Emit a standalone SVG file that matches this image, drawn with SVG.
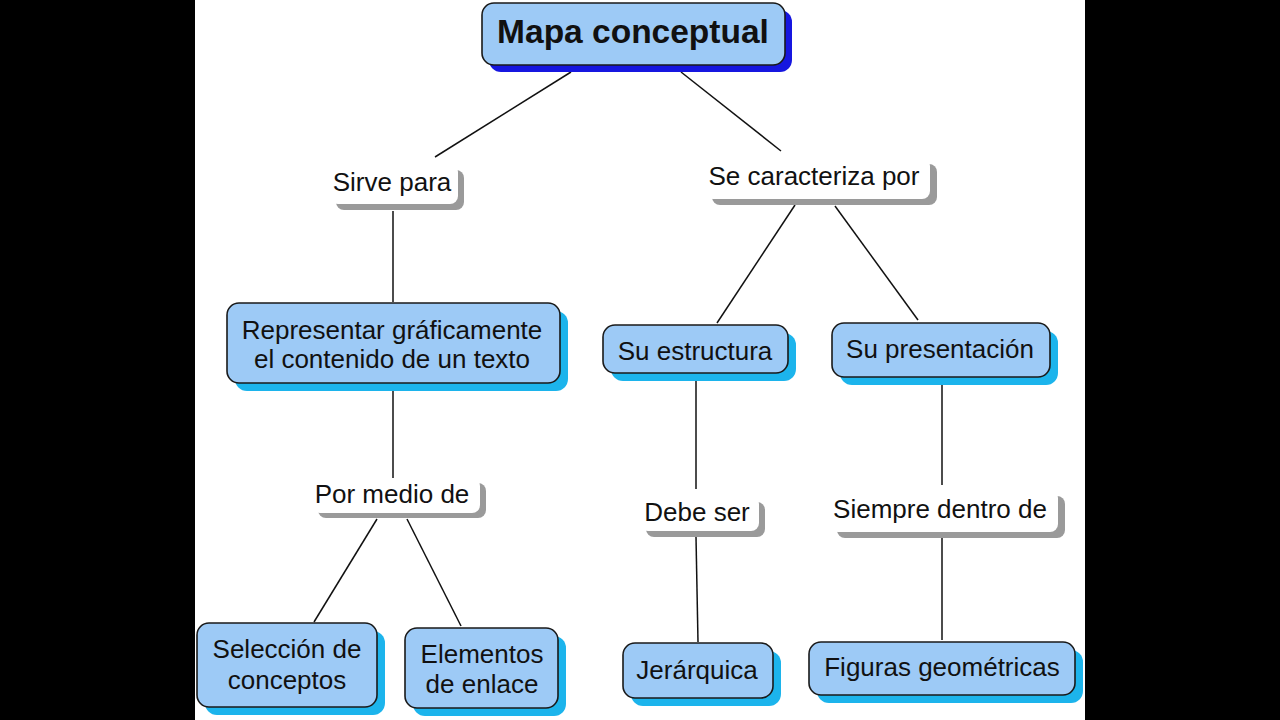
<svg xmlns="http://www.w3.org/2000/svg" width="1280" height="720" viewBox="0 0 1280 720">
<style>
.node{fill:#9dcaf6;stroke:#1a1a1a;stroke-width:1.6}
.sh{fill:#1cb4ec}
.tsh{fill:#1616e0}
.lsh{fill:#9a9a9a}
.lbg{fill:#ffffff}
.t{font-family:"Liberation Sans",Arial,sans-serif;font-size:26px;fill:#111;text-anchor:middle}
.title{font-family:"Liberation Sans",Arial,sans-serif;font-size:33.5px;font-weight:bold;fill:#111;text-anchor:middle}
.c{stroke:#111;stroke-width:1.5;fill:none}
</style>
<rect x="0" y="0" width="1280" height="720" fill="#000"/>
<rect x="195" y="0" width="890" height="720" fill="#fff"/>
<g id="connectors">
<line class="c" x1="571" y1="72" x2="435" y2="157"/>
<line class="c" x1="681" y1="72" x2="781" y2="151"/>
<line class="c" x1="393" y1="211" x2="393" y2="302"/>
<line class="c" x1="393" y1="391" x2="393" y2="478"/>
<line class="c" x1="377" y1="519" x2="314" y2="622"/>
<line class="c" x1="407" y1="519" x2="461" y2="626"/>
<line class="c" x1="795" y1="205" x2="717" y2="323"/>
<line class="c" x1="835" y1="206" x2="918" y2="320"/>
<line class="c" x1="696" y1="381" x2="696" y2="489"/>
<line class="c" x1="696" y1="537" x2="698" y2="642"/>
<line class="c" x1="942" y1="385" x2="942" y2="485"/>
<line class="c" x1="942" y1="538" x2="942" y2="640"/>
</g>
<g id="title">
<rect class="tsh" x="489" y="10" width="303" height="62" rx="12"/>
<rect class="node" x="482" y="3" width="303" height="62" rx="12"/>
<text class="title" x="633" y="43">Mapa conceptual</text>
</g>
<g id="sirve">
<rect class="lsh" x="336" y="170" width="128" height="40" rx="8"/>
<rect class="lbg" x="330" y="164" width="128" height="40" rx="8"/>
<text class="t" x="392" y="191">Sirve para</text>
</g>
<g id="caracteriza">
<rect class="lsh" x="712" y="164" width="225" height="41" rx="8"/>
<rect class="lbg" x="705" y="158" width="225" height="41" rx="8"/>
<text class="t" x="814" y="185">Se caracteriza por</text>
</g>
<g id="representar">
<rect class="sh" x="235" y="311" width="333" height="80" rx="12"/>
<rect class="node" x="227" y="303" width="333" height="80" rx="12"/>
<text class="t" x="392" y="339">Representar gráficamente</text>
<text class="t" x="392" y="368">el contenido de un texto</text>
</g>
<g id="pormedio">
<rect class="lsh" x="318" y="483" width="168" height="35" rx="8"/>
<rect class="lbg" x="312" y="478" width="168" height="35" rx="8"/>
<text class="t" x="392" y="503">Por medio de</text>
</g>
<g id="seleccion">
<rect class="sh" x="205" y="631" width="180" height="84" rx="12"/>
<rect class="node" x="197" y="623" width="180" height="84" rx="12"/>
<text class="t" x="287" y="658">Selección de</text>
<text class="t" x="287" y="689">conceptos</text>
</g>
<g id="elementos">
<rect class="sh" x="413" y="636" width="153" height="80" rx="12"/>
<rect class="node" x="405" y="628" width="153" height="80" rx="12"/>
<text class="t" x="482" y="663">Elementos</text>
<text class="t" x="482" y="693">de enlace</text>
</g>
<g id="estructura">
<rect class="sh" x="611" y="333" width="185" height="48" rx="12"/>
<rect class="node" x="603" y="325" width="185" height="48" rx="12"/>
<text class="t" x="695" y="360">Su estructura</text>
</g>
<g id="presentacion">
<rect class="sh" x="840" y="331" width="218" height="54" rx="12"/>
<rect class="node" x="832" y="323" width="218" height="54" rx="12"/>
<text class="t" x="940" y="358">Su presentación</text>
</g>
<g id="debeser">
<rect class="lsh" x="646" y="502" width="119" height="35" rx="8"/>
<rect class="lbg" x="640" y="496" width="119" height="35" rx="8"/>
<text class="t" x="697" y="521">Debe ser</text>
</g>
<g id="siempre">
<rect class="lsh" x="837" y="496" width="228" height="42" rx="8"/>
<rect class="lbg" x="830" y="490" width="228" height="42" rx="8"/>
<text class="t" x="940" y="518">Siempre dentro de</text>
</g>
<g id="jerarquica">
<rect class="sh" x="631" y="651" width="150" height="55" rx="12"/>
<rect class="node" x="623" y="643" width="150" height="55" rx="12"/>
<text class="t" x="697" y="679">Jerárquica</text>
</g>
<g id="figuras">
<rect class="sh" x="817" y="650" width="266" height="53" rx="12"/>
<rect class="node" x="809" y="642" width="266" height="53" rx="12"/>
<text class="t" x="942" y="676">Figuras geométricas</text>
</g>
</svg>
